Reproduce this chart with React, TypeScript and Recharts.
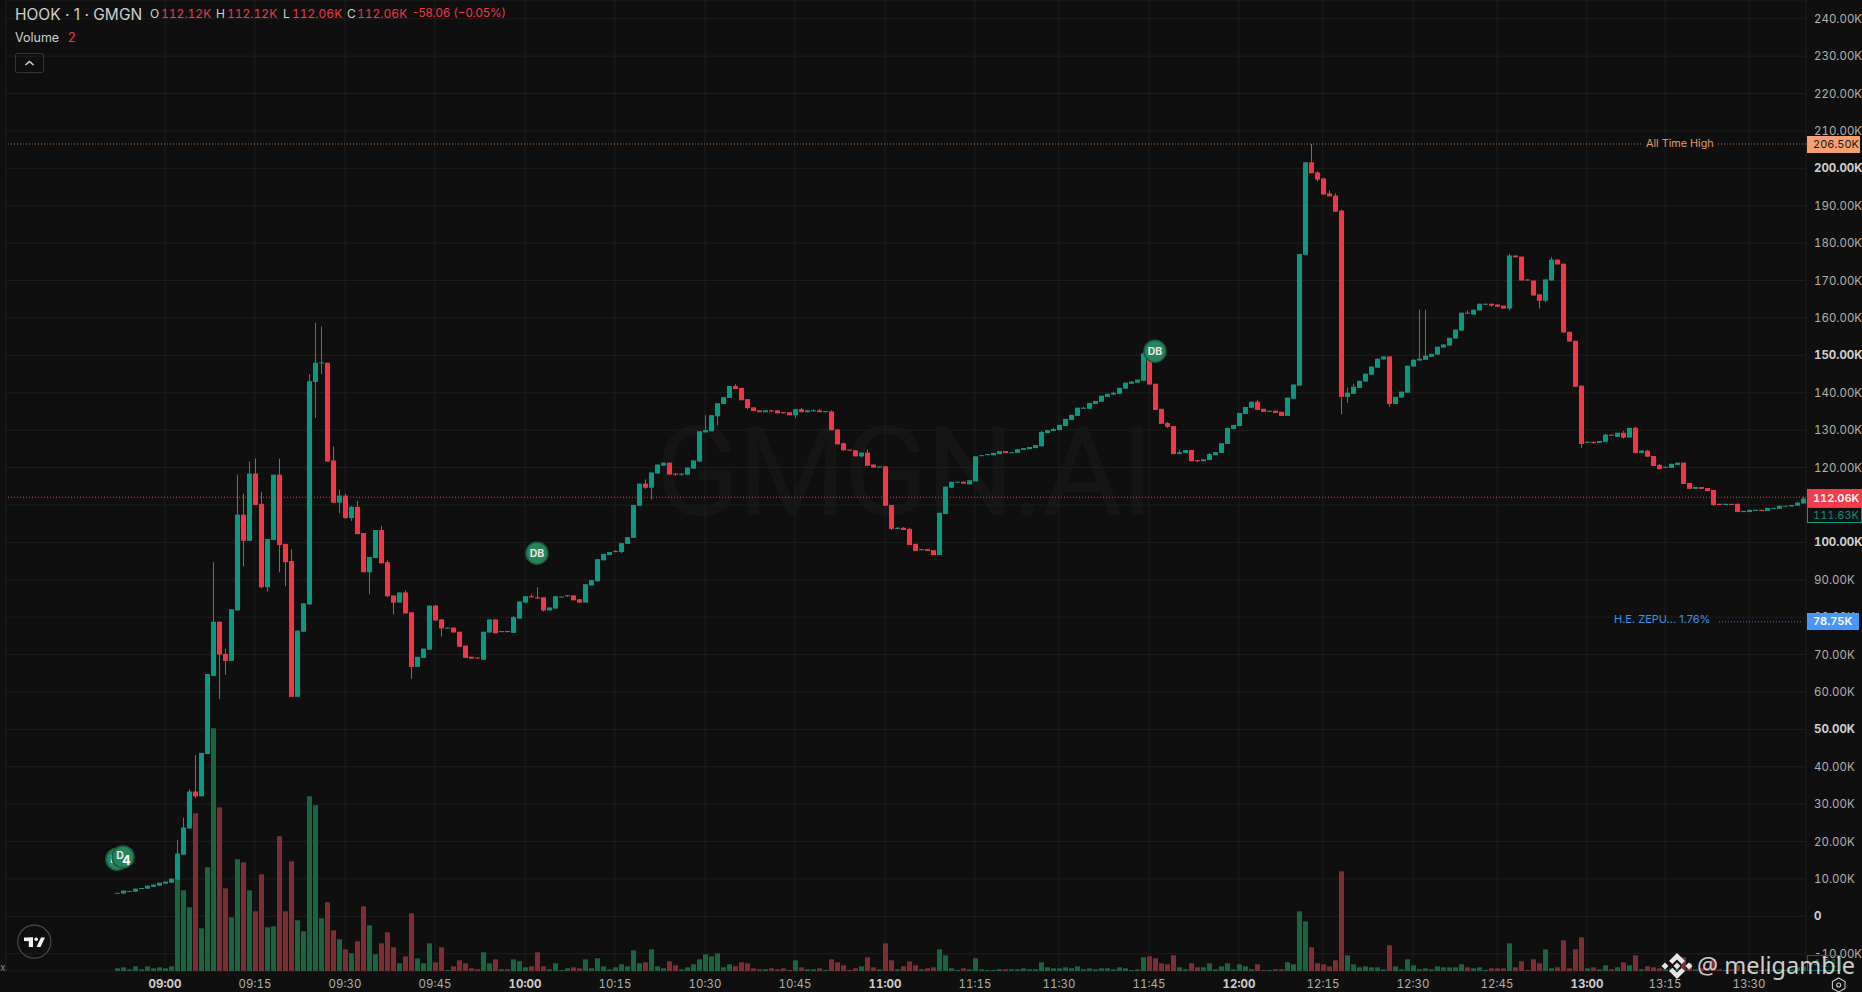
import React from 'react';
import {
  ComposedChart,
  Bar,
  Cell,
  XAxis,
  YAxis,
  CartesianGrid,
  ReferenceLine,
  ReferenceDot,
} from 'recharts';

// all prices in K, one candle per traded minute
const opens = [
  6.2, 6.1, 6.7, 6.6, 7.5, 7.4, 7.9, 8.2, 8.75, 9.0,
  9.8, 16.5, 23.5, 33.4, 32.1, 43.4, 64.3, 78.8, 70.2, 68.3,
  81.8, 107.4, 100.4, 118.4, 110.3, 88, 100.6, 118.1, 99.6, 95,
  58.7, 76.1, 83.4, 142.9, 147.9, 148, 121.9, 110.6, 112.5, 106.5,
  109.5, 102.5, 92, 95.8, 103.3, 94.7, 85.8, 83.9, 86.6, 81.3,
  66.7, 69.1, 71.3, 83.1, 79.4, 77, 77.2, 76.1, 72.4, 69.4,
  69.2, 68.6, 75.9, 79.4, 76, 76.3, 75.8, 79.6, 83.9, 85.6,
  85.3, 85.3, 81.8, 82.3, 85.3, 85.6, 85.8, 84.8, 83.9, 88.5,
  89.6, 95.2, 96.6, 97.4, 97.4, 99.6, 101.2, 109.8, 115.7, 114.6,
  118.4, 120.5, 121.3, 118.4, 118.1, 118.1, 119.7, 121.6, 129.4, 129.7,
  133.7, 137, 138.6, 141.8, 141.3, 138.3, 136.1, 135.3, 134.8, 135.3,
  135.3, 134.8, 134.8, 134, 135.6, 134.8, 135, 135.3, 134.8, 135,
  130.2, 126.5, 124.8, 124.6, 123, 124, 120.8, 120, 120.3, 110,
  103.6, 103.9, 103.6, 99.6, 97.9, 98.2, 97.9, 96.6, 107.6, 114.6,
  116, 116.2, 115.5, 116.3, 123.05, 123.3, 123.3, 123.6, 124.4, 123.9,
  123.9, 124.7, 124.9, 125.2, 125.7, 129.2, 129.8, 130, 131.1, 132.7,
  133.8, 135.7, 135.7, 137, 137.6, 138.9, 139.5, 139.7, 141.1, 142.4,
  142.7, 143.2, 148.9, 142.4, 135.7, 131.9, 131.1, 123.6, 123.9, 124.7,
  122, 121.7, 122, 123.3, 123.9, 126.3, 130.3, 131.1, 134.3, 136,
  137.6, 135.7, 134.9, 135.2, 134.9, 133.8, 138.4, 141.9, 176.9, 201.6,
  198.9, 197.3, 193.3, 192.7, 188.7, 138.9, 139.7, 141.3, 143, 144.8,
  146.7, 148.9, 149.7, 137, 138.7, 140, 147, 148.6, 148.8, 149.6,
  150.2, 152.1, 152.6, 154.5, 156.6, 161.4, 160.9, 162, 163.6, 163.8,
  163.6, 163.3, 162.5, 176.7, 176.4, 170.3, 170, 166.3, 164.6, 170,
  175.6, 174.5, 156.3, 153.9, 141.9, 126.6, 126.9, 126.6, 126.9, 128.8,
  128.2, 129.3, 128, 130.6, 123.9, 124.5, 123.1, 120.7, 119.9, 119.9,
  120.7, 121.3, 115.9, 114.3, 114.8, 114.5, 114, 110.3, 110, 110.3,
  110.3, 108.4, 108.1, 108.4, 108.7, 108.4, 109, 109, 109.6, 109.6,
  109.8, 110.4,
];

const closes = [
  6.3, 6.9, 6.8, 7.4, 7.6, 8.2, 8.5, 9.0, 9.3, 10.1,
  16.8, 23.75, 33.4, 32.1, 43.7, 64.8, 78.8, 70, 68.3, 82.1,
  107.4, 100.4, 118.4, 110, 88, 100.9, 118.1, 99.3, 94.7, 58.7,
  76.4, 83.7, 143.1, 148, 148.1, 121.6, 110.6, 112.5, 106.5, 109.5,
  102.2, 92, 96.1, 103.3, 94.4, 85.6, 83.9, 86.6, 81, 66.7,
  69.4, 71.6, 83.1, 79.1, 77, 77.2, 75.9, 72.1, 69.1, 68.9,
  69, 76.1, 79.4, 75.7, 76.3, 76, 80, 84.2, 85.6, 85.3,
  85, 81.8, 82.6, 85.6, 85.5, 85.9, 84.5, 83.9, 88.8, 89.9,
  95.5, 96.9, 97.4, 97.7, 99.8, 101.4, 110, 115.7, 114.6, 118.7,
  120.8, 121.3, 118.1, 118.1, 118.4, 120, 121.9, 129.7, 130, 134,
  137.2, 138.8, 141.8, 141, 138, 135.9, 135.1, 134.8, 135.3, 135,
  134.5, 134.5, 134, 135.6, 134.8, 135.3, 135.3, 134.8, 135.1, 130,
  126.2, 124.6, 124.6, 123, 124, 120.5, 120, 120.3, 109.8, 103.6,
  103.9, 103.3, 99.3, 97.7, 98.2, 97.7, 96.6, 107.9, 114.9, 116.2,
  116.2, 115.7, 116.6, 123, 123.3, 123.6, 123.9, 124.4, 123.9, 124.1,
  124.9, 125.2, 125.5, 126, 129.5, 130, 130.3, 131.4, 133, 134.1,
  136, 136, 137.3, 137.8, 139.2, 139.7, 140, 141.3, 142.7, 143,
  143.5, 150.5, 142.2, 135.4, 131.7, 130.9, 123.6, 124.1, 124.7, 121.7,
  121.7, 122.2, 123.6, 124.1, 126.5, 130.6, 131.4, 134.6, 136.2, 137.6,
  135.4, 134.9, 135.2, 134.6, 133.8, 138.7, 142.2, 177.1, 201.6, 198.7,
  197, 193, 192.5, 188.4, 138.9, 140, 141.6, 143.2, 145.1, 147,
  149.1, 149.7, 137, 138.9, 140.3, 147.2, 148.8, 149.1, 149.9, 150.4,
  152.3, 152.9, 154.7, 156.9, 161.4, 161.2, 162.2, 163.8, 163.8, 163.3,
  163, 162.5, 176.7, 176.2, 170, 170, 166, 164.6, 170.3, 175.6,
  174.3, 156.1, 153.7, 141.6, 126.3, 126.9, 126.6, 127.1, 128.8, 128.5,
  129.3, 128, 130.6, 123.9, 124.5, 122.9, 120.4, 119.6, 120.2, 121,
  121.3, 115.6, 114.3, 114.8, 114.3, 113.7, 110, 110, 110.3, 110,
  108.1, 108.1, 108.7, 108.7, 108.4, 109.2, 109.2, 109.8, 109.8, 110,
  110.6, 111.7,
];

const highs = [
  6.3, 6.9, 6.8, 7.4, 7.6, 8.2, 8.5, 9.0, 9.3, 10.1,
  20.5, 26.4, 34, 43.1, 43.7, 64.8, 94.7, 78.8, 71.6, 82.1,
  118.1, 113, 121.6, 122.4, 113.5, 100.9, 118.1, 122.4, 99.6, 98.2,
  76.4, 83.7, 145, 158.7, 157.7, 148, 125.6, 114.1, 113, 109.8,
  111.1, 102.5, 96.1, 103.3, 104.4, 95.2, 85.8, 86.6, 87.2, 81.3,
  69.4, 71.6, 83.1, 83.1, 79.4, 77.2, 77.2, 76.1, 72.4, 69.4,
  69.2, 76.1, 79.4, 79.4, 76.3, 76.3, 80.3, 84.2, 85.6, 86.1,
  88, 85.3, 82.6, 85.6, 85.5, 85.9, 85.8, 84.8, 88.8, 89.9,
  95.5, 96.9, 97.4, 97.9, 99.8, 101.4, 110, 115.7, 116.8, 118.7,
  120.8, 121.3, 121.3, 118.4, 118.4, 120, 121.9, 129.7, 134, 134,
  137.2, 138.8, 141.8, 142.3, 141.3, 138.3, 136.1, 135.3, 135.3, 135.3,
  135.3, 134.8, 134.8, 135.6, 135.9, 135.3, 135.6, 135.6, 135.1, 135.3,
  130.2, 126.7, 124.8, 124.6, 124, 124.8, 120.8, 120.3, 120.5, 110,
  104.1, 104.1, 103.9, 99.6, 98.2, 98.2, 97.9, 107.9, 114.9, 116.2,
  116.2, 116.2, 116.6, 123, 123.3, 123.6, 123.9, 124.4, 124.4, 124.1,
  124.9, 125.2, 125.5, 126, 129.8, 130, 130.6, 131.4, 133, 134.1,
  136, 136.2, 137.3, 137.8, 139.2, 139.7, 140.3, 141.3, 142.7, 143,
  143.5, 150.8, 148.9, 142.4, 135.7, 132.2, 131.1, 124.7, 124.7, 124.7,
  122, 122.2, 123.9, 124.1, 126.5, 130.6, 131.4, 134.6, 136.2, 137.6,
  138.1, 135.7, 135.2, 135.2, 134.9, 138.7, 142.2, 177.1, 201.6, 206.5,
  199.2, 197.3, 194.1, 193.3, 189, 141.3, 142.4, 143.2, 145.1, 147,
  149.1, 149.7, 149.7, 138.9, 140.3, 147.2, 149, 162.2, 162.2, 150.4,
  152.3, 152.9, 154.7, 156.9, 161.4, 162, 162.2, 163.8, 163.8, 163.8,
  163.6, 163.3, 177.2, 176.7, 176.4, 170.3, 170, 166.3, 170.3, 176.2,
  175.6, 174.5, 156.3, 153.9, 141.9, 126.9, 126.9, 127.1, 129, 128.8,
  129.3, 129.8, 130.6, 130.9, 124.7, 124.7, 123.1, 121, 120.2, 121,
  121.3, 121.3, 115.9, 114.8, 114.8, 114.5, 114, 110.3, 110.3, 110.3,
  110.3, 108.4, 108.7, 108.7, 108.7, 109.2, 109.2, 109.8, 109.8, 110,
  110.9, 112.2,
];

const lows = [
  6.2, 6.1, 6.7, 6.6, 7.5, 7.4, 7.9, 8.2, 8.75, 9.0,
  9.8, 16.5, 23.5, 31.6, 32.1, 43.4, 64.3, 58.1, 64.6, 68.3,
  81.8, 93.6, 100.4, 110, 87.7, 86.9, 100.6, 92, 88.3, 58.7,
  58.7, 76.1, 83.4, 133.2, 145, 121.6, 110.6, 107.9, 106.3, 105.7,
  102.2, 92, 86.1, 95.8, 94.4, 85.3, 80.7, 83.9, 81, 63.5,
  66.7, 69.1, 71.3, 79.1, 74.8, 77, 75.9, 72.1, 69.1, 68.9,
  69, 68.6, 75.9, 75.7, 76, 76, 75.8, 79.6, 83.9, 85.3,
  85, 81.5, 81.8, 82.3, 85.3, 85.4, 84.5, 83.9, 83.9, 88.5,
  89.6, 95.2, 96.6, 97.4, 97.1, 99.6, 101.2, 109.8, 114.3, 111.4,
  118.4, 120.5, 118.1, 117.8, 117.8, 118.1, 119.7, 121.6, 129.4, 129.7,
  131.3, 137, 138.6, 141, 138, 135.6, 135.1, 134.8, 134.8, 135,
  134.5, 134.5, 134, 133.2, 134.8, 134.8, 135, 134.8, 134.8, 130,
  126.2, 124.6, 124.6, 123, 122.7, 120.5, 120, 120, 109.8, 103.3,
  103.6, 103.3, 99.3, 97.7, 97.9, 97.7, 96.6, 96.6, 107.6, 114.6,
  116, 115.7, 115.5, 116.3, 123.05, 123.3, 123.3, 123.6, 123.9, 123.9,
  123.9, 124.7, 124.9, 125.2, 125.7, 129.2, 129.8, 130, 131.1, 132.7,
  133.8, 135.7, 135.7, 137, 137.6, 138.9, 139.5, 139.7, 141.1, 142.4,
  142.7, 143.2, 142.2, 135.4, 131.7, 130.6, 123.6, 123.6, 123.9, 121.7,
  121.4, 121.7, 122, 123.3, 123.9, 126.3, 130.3, 131.1, 134.3, 136,
  135.4, 134.9, 134.9, 134.6, 133.8, 133.8, 138.4, 141.9, 176.9, 198.7,
  196.5, 193, 192.5, 188.4, 134.3, 137.3, 139.7, 141.3, 143, 144.8,
  146.7, 148.9, 136.2, 137, 138.7, 140, 147, 148.6, 148.8, 149.6,
  150.2, 152.1, 152.6, 154.5, 156.6, 161.2, 160.9, 162, 163.6, 163,
  163, 162.5, 162, 176.2, 170, 170, 166, 162.5, 164.1, 170,
  174.3, 156.1, 153.7, 141.6, 125.3, 126.6, 126.3, 126.6, 126.9, 128.5,
  128.2, 127.7, 128, 123.7, 123.9, 122.9, 120.4, 119.6, 119.9, 119.9,
  120.7, 115.6, 114.3, 114.3, 114.3, 113.7, 109.7, 110, 110, 110,
  108.1, 108.1, 108.1, 108.4, 108.4, 108.4, 109, 109, 109.6, 109.6,
  109.8, 110.4,
];

// volume pane has no scale in the picture, units are arbitrary
const volumes = [
  2.7, 3.7, 1.7, 4.7, 1.7, 4.7, 2.7, 3.7, 2.7, 4.7,
  91.7, 80.7, 63.7, 157.7, 42.7, 103.7, 242.7, 163.7, 82.7, 53.7,
  111.7, 108.7, 80.7, 59.7, 96.7, 43.7, 44.7, 134.7, 59.7, 109.7,
  50.7, 39.7, 174.7, 165.7, 52.7, 68.7, 40.7, 31.7, 21.7, 17.7,
  29.7, 64.7, 45.7, 16.7, 27.7, 38.7, 23.7, 7.7, 14.7, 57.7,
  12.7, 7.7, 27.7, 8.7, 23.7, 1, 4.7, 10.7, 7.7, 2.7,
  1.7, 18.7, 7.7, 11.7, 1.7, 1.7, 11.7, 9.7, 3.7, 4.7,
  18.7, 4.7, 1.7, 7.7, 1, 2.7, 3.7, 2.7, 11.7, 2.7,
  12.7, 4.7, 1.7, 3.7, 6.7, 4.7, 20.7, 7.7, 8.7, 21.7,
  4.7, 2.7, 9.7, 5.7, 1.7, 3.7, 6.7, 11.7, 16.7, 14.7,
  17.7, 3.7, 6.7, 4.7, 8.7, 7.7, 2.7, 1.7, 1.7, 2.7,
  1.7, 2.7, 1, 10.7, 3.7, 1.7, 1.7, 2.7, 1, 11.7,
  8.7, 5.7, 1, 2.7, 4.7, 13.7, 3.7, 1.7, 27.7, 10.7,
  1.7, 4.7, 9.7, 5.7, 1.7, 2.7, 3.7, 21.7, 15.7, 2.7,
  1, 2.7, 1.7, 12.7, 1.7, 1, 1, 1.7, 1.7, 1.7,
  1.7, 2.7, 1.7, 1.7, 8.7, 3.7, 2.7, 2.7, 3.7, 2.7,
  4.7, 1.7, 2.7, 1.7, 2.7, 2.7, 1.7, 3.7, 2.7, 1,
  1.7, 13.7, 14.7, 12.7, 7.7, 6.7, 15.7, 3.7, 1.7, 7.7,
  3.7, 3.7, 7.7, 1.7, 4.7, 7.7, 1.7, 6.7, 4.7, 1.7,
  6.7, 1, 1, 1.7, 1.7, 8.7, 6.7, 59.7, 49.7, 23.7,
  7.7, 6.7, 4.7, 10.7, 99.7, 15.7, 6.7, 3.7, 4.7, 3.7,
  3.7, 1.7, 25.7, 4.7, 1.7, 11.7, 5.7, 1.7, 2.7, 1.7,
  4.7, 3.7, 3.7, 3.7, 6.7, 3.7, 2.7, 3.7, 1, 2.7,
  2.7, 2.7, 27.7, 3.7, 9.7, 1, 11.7, 7.7, 21.7, 2.7,
  3.7, 30.7, 2.7, 21.7, 33.7, 2.7, 3.7, 1.7, 5.7, 1.7,
  3.7, 8.7, 5.7, 15.7, 1.7, 4.7, 3.7, 2.7, 1.7, 2.7,
  1.7, 13.7, 7.7, 1.7, 2.7, 2.7, 11.7, 1.7, 1, 1.7,
  5.7, 1, 1.7, 1, 1, 1.7, 1, 1.7, 1, 1.7,
  3.7, 4.7,
];

const timeTickIndexes = [8, 23, 38, 53, 68, 83, 98, 113, 128, 143, 157, 172, 187, 201, 216, 230, 245, 258, 272];
const timeTickLabels = ['09:00', '09:15', '09:30', '09:45', '10:00', '10:15', '10:30', '10:45', '11:00', '11:15', '11:30', '11:45', '12:00', '12:15', '12:30', '12:45', '13:00', '13:15', '13:30'];
const boldTimes = ['09:00', '10:00', '11:00', '12:00', '13:00'];

const priceTicks = [-10, 0, 10, 20, 30, 40, 50, 60, 70, 80, 90, 100, 110, 120, 130, 140, 150, 160, 170, 180, 190, 200, 210, 220, 230, 240];
const boldPrices = [0, 50, 100, 150, 200];

const allTimeHigh = 206.5;
const lastPrice = 112.06;
const holderPrice = 78.75;

const markers = [
  { index: 0, price: 15.3, label: 'LD', badge: '' },
  { index: 1, price: 15.9, label: 'D', badge: '4' },
  { index: 70, price: 97.1, label: 'DB', badge: '' },
  { index: 173, price: 151.1, label: 'DB', badge: '' },
];

const UP = '#089981';
const DOWN = '#f23645';
const UP_VOL = '#186540';
const DOWN_VOL = '#7c2e33';
const BG = '#0f0f0f';
const GRID = '#1e1e1e';
const AXIS_TEXT = '#b0b0b0';
const FONT = 'Inter, Roboto, sans-serif';

const rows = opens.map((open, i) => ({
  index: i,
  open,
  close: closes[i],
  high: highs[i],
  low: lows[i],
  volume: volumes[i],
  range: [lows[i], highs[i]],
}));

const Candle = (props: any) => {
  const { x, y, width, height, payload } = props;
  const { open, close, high, low } = payload;
  const color = close >= open ? UP : DOWN;
  const perUnit = Math.abs(height) / (high - low);
  const top = Math.min(y, y + height);
  const bodyTop = top + (high - Math.max(open, close)) * perUnit;
  const bodyHeight = Math.max(1, Math.abs(open - close) * perUnit);
  return (
    <g>
      <rect x={x + width / 2 - 0.5} y={top} width={1} height={Math.abs(height)} fill={color} />
      <rect x={x} y={bodyTop} width={width} height={bodyHeight} fill={color} />
    </g>
  );
};

const PriceTick = ({ x, y, payload }: any) => {
  const v = payload.value;
  return (
    <text
      x={x}
      y={y + 4}
      fontFamily={FONT}
      fontSize={11.5}
      fontWeight={boldPrices.includes(v) ? 700 : 400}
      fill={boldPrices.includes(v) ? '#cfcfcf' : AXIS_TEXT}
      style={{ fontVariantNumeric: 'tabular-nums' }}
    >
      {v === 0 ? '0' : `${v.toFixed(2)}K`}
    </text>
  );
};

const TimeTick = ({ x, y, payload }: any) => {
  const label = timeTickLabels[timeTickIndexes.indexOf(payload.value)];
  const bold = boldTimes.includes(label);
  return (
    <text
      x={x}
      y={y + 9}
      textAnchor="middle"
      fontFamily={FONT}
      fontSize={11.5}
      fontWeight={bold ? 700 : 400}
      fill={bold ? '#cfcfcf' : AXIS_TEXT}
      style={{ fontVariantNumeric: 'tabular-nums' }}
    >
      {label}
    </text>
  );
};

const MarkerDot = ({ cx, cy, label, badge }: any) => (
  <g>
    <circle cx={cx} cy={cy} r={11} fill="#26835a" stroke="#1b5a3f" strokeWidth={1.5} />
    <text x={badge ? cx - 3 : cx} y={cy + 2 + (badge ? 0 : 1.5)} textAnchor="middle" fontFamily={FONT} fontSize={10.5} fontWeight={700} fill="#e8e8e8">
      {label}
    </text>
    {badge ? (
      <text x={cx + 3.5} y={cy + 8} textAnchor="middle" fontFamily={FONT} fontSize={13} fontWeight={700} fill="#ffffff">
        {badge}
      </text>
    ) : null}
  </g>
);

const Txt = ({ x, y, size = 12, color = '#cfcfcf', weight = 400, tnum = false, children }: any) => (
  <span
    style={{
      position: 'absolute',
      left: x,
      top: y,
      fontSize: size,
      lineHeight: `${size + 2}px`,
      color,
      fontWeight: weight,
      fontVariantNumeric: tnum ? 'tabular-nums' : 'normal',
      whiteSpace: 'nowrap',
    }}
  >
    {children}
  </span>
);

const PriceTag = ({ top, height, width = 55, bg, color, border, weight = 400, children }: any) => (
  <div
    style={{
      position: 'absolute',
      left: 1807,
      top,
      width,
      height,
      boxSizing: 'border-box',
      background: bg,
      border: border ? `1px solid ${border}` : 'none',
      color,
      fontSize: 11,
      fontWeight: weight,
      fontVariantNumeric: 'tabular-nums',
      lineHeight: `${border ? height - 2 : height}px`,
      paddingLeft: border ? 5 : 6,
      whiteSpace: 'nowrap',
      overflow: 'hidden',
    }}
  >
    {children}
  </div>
);

export default function App() {
  return (
    <div
      style={{
        position: 'fixed',
        left: 0,
        top: 0,
        width: 1862,
        height: 992,
        overflow: 'hidden',
        background: BG,
        fontFamily: FONT,
      }}
    >
      <div
        style={{
          position: 'absolute',
          left: 655,
          top: 400,
          fontFamily: 'Roboto, sans-serif',
          fontSize: 125,
          lineHeight: '146px',
          letterSpacing: -3,
          color: '#151515',
          whiteSpace: 'nowrap',
        }}
      >
        GMGN.AI
      </div>

      <div style={{ position: 'absolute', left: 0, top: 0 }}>
        <ComposedChart
          width={1862}
          height={992}
          data={rows}
          barCategoryGap={0}
          margin={{ top: 0, right: 0, bottom: 0, left: 6 }}
        >
          <CartesianGrid xAxisId="time" yAxisId="price" stroke={GRID} strokeWidth={1} />
          <XAxis
            xAxisId="time"
            dataKey="index"
            type="category"
            ticks={timeTickIndexes}
            interval={0}
            height={21}
            padding={{ left: 108, right: 0 }}
            axisLine={false}
            tickLine={false}
            tick={<TimeTick />}
          />
          <XAxis xAxisId="timeVol" dataKey="index" type="category" hide padding={{ left: 108, right: 0 }} />
          <YAxis
            yAxisId="price"
            orientation="right"
            width={56}
            type="number"
            domain={[-14.6, 245]}
            ticks={priceTicks}
            interval={0}
            axisLine={false}
            tickLine={false}
            tick={<PriceTick />}
            allowDataOverflow
          />
          <YAxis yAxisId="vol" hide type="number" domain={[0, 971]} allowDataOverflow />

          <Bar
            xAxisId="timeVol"
            yAxisId="vol"
            dataKey="volume"
            barSize={5}
            isAnimationActive={false}
          >
            {rows.map((r) => (
              <Cell key={r.index} fill={r.close >= r.open ? UP_VOL : DOWN_VOL} />
            ))}
          </Bar>
          <Bar
            xAxisId="time"
            yAxisId="price"
            dataKey="range"
            barSize={5}
            shape={<Candle />}
            isAnimationActive={false}
          />

          <ReferenceLine xAxisId="time" yAxisId="price" y={allTimeHigh} stroke="#b8734a" strokeDasharray="1 2" />
          <ReferenceLine xAxisId="time" yAxisId="price" y={lastPrice} stroke={DOWN} strokeDasharray="1 2" />
          <ReferenceLine
            xAxisId="time"
            yAxisId="price"
            segment={[
              { x: 267, y: holderPrice },
              { x: 281, y: holderPrice },
            ]}
            stroke="#3f78c8"
            strokeDasharray="1 2"
          />

          {markers.map((m, i) => (
            <ReferenceDot
              key={i}
              xAxisId="time"
              yAxisId="price"
              x={m.index}
              y={m.price}
              shape={(p: any) => <MarkerDot cx={p.cx} cy={p.cy} label={m.label} badge={m.badge} />}
            />
          ))}
        </ComposedChart>
      </div>

      {/* legend */}
      <Txt x={15} y={6} size={15.5} color="#d0d0d0">HOOK · 1 · GMGN</Txt>
      <Txt x={150} y={7} color="#d0d0d0">O</Txt>
      <Txt x={161} y={7} color={DOWN} tnum>112.12K</Txt>
      <Txt x={216} y={7} color="#d0d0d0">H</Txt>
      <Txt x={227} y={7} color={DOWN} tnum>112.12K</Txt>
      <Txt x={283} y={7} color="#d0d0d0">L</Txt>
      <Txt x={292} y={7} color={DOWN} tnum>112.06K</Txt>
      <Txt x={347} y={7} color="#d0d0d0">C</Txt>
      <Txt x={357} y={7} color={DOWN} tnum>112.06K</Txt>
      <Txt x={413} y={7} size={11.7} color={DOWN}>-58.06 (−0.05%)</Txt>
      <Txt x={15} y={31} size={12.5} color="#d0d0d0">Volume</Txt>
      <Txt x={68} y={31} size={12.5} color={DOWN}>2</Txt>
      <div
        style={{
          position: 'absolute',
          left: 15,
          top: 53,
          width: 29,
          height: 20,
          boxSizing: 'border-box',
          border: '1px solid #333333',
          borderRadius: 2,
        }}
      />

      {/* right axis tags and line labels */}
      <div style={{ position: 'absolute', left: 1642, top: 137, padding: '0 4px', background: BG, color: '#e79a6b', fontSize: 10.8, lineHeight: '14px' }}>
        All Time High
      </div>
      <Txt x={1614} y={613} size={11} color="#3f8fe8">H.E. ZEPU... 1.76%</Txt>
      <PriceTag top={136} height={17} width={53} bg="#f4a073" color="#1a1a1a">206.50K</PriceTag>
      <PriceTag top={489} height={18} bg="#f43b4a" color="#ffffff" weight={600}>112.06K</PriceTag>
      <PriceTag top={507} height={16} bg={BG} color="#0b8a70" border={UP}>111.63K</PriceTag>
      <PriceTag top={613} height={17} width={52} bg="#4a96f8" color="#ffffff" weight={600}>78.75K</PriceTag>
      <PriceTag top={955} height={16} width={34} bg="transparent" color="#0b6a58" border="#0b6a58">4.21</PriceTag>

      {/* logos and watermark */}
      <svg width={1862} height={992} style={{ position: 'absolute', left: 0, top: 0, pointerEvents: 'none' }}>
        <path d="M25.5,65 L29.5,61.5 L33.5,65" fill="none" stroke="#d8d8d8" strokeWidth={1.5} />
        <circle cx={34.3} cy={941.7} r={16.5} fill="none" stroke="#4a4a4a" strokeWidth={1.2} />
        <rect x={24} y={937.5} width={9} height={3.6} fill="#f2f2f2" />
        <rect x={28.8} y={937.5} width={4.2} height={9.5} fill="#f2f2f2" />
        <circle cx={36.2} cy={939.2} r={1.8} fill="#f2f2f2" />
        <polygon points="36.5,947 41,937.5 45,937.5 40.5,947" fill="#f2f2f2" />
        <polygon points="1838.7,978 1845,981.5 1845,988.5 1838.7,992 1832.4,988.5 1832.4,981.5" fill="none" stroke="#c8c8c8" strokeWidth={1.1} />
        <circle cx={1838.7} cy={985} r={2} fill="none" stroke="#c8c8c8" strokeWidth={1.1} />
        <g fill="#e6e6e6">
          <polygon points="1677,953 1685,961 1681.5,964 1677,959.5 1672.5,964 1669,961" />
          <polygon points="1677,979 1685,971 1681.5,968 1677,972.5 1672.5,968 1669,971" />
          <polygon points="1665,962.5 1668.5,966 1665,969.5 1661.5,966" />
          <polygon points="1689,962.5 1692.5,966 1689,969.5 1685.5,966" />
          <polygon points="1677,962.5 1680.5,966 1677,969.5 1673.5,966" />
        </g>
      </svg>
      <Txt x={1697} y={950} size={23.5} color="rgba(232,232,232,0.88)">
        <span style={{ fontFamily: '"Noto Sans", sans-serif', lineHeight: '30px' }}>@ meligamble</span>
      </Txt>
      <Txt x={0} y={961} size={10} color="#8a8a8a">x</Txt>
    </div>
  );
}
